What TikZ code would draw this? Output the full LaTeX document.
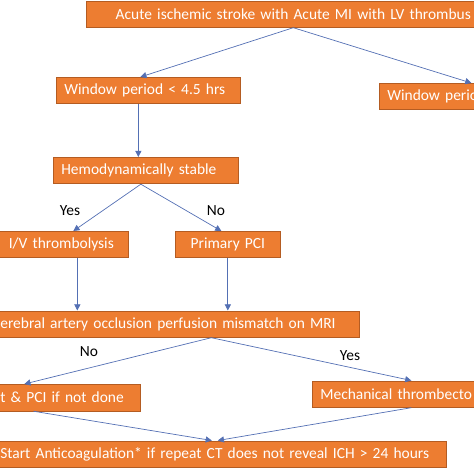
\documentclass[tikz,border=0pt]{standalone}
\usepackage{fontspec}
\setmainfont{Carlito}
\usetikzlibrary{positioning,arrows.meta,calc}
\definecolor{boxfill}{RGB}{237,125,49}
\definecolor{boxline}{RGB}{180,92,34}
\definecolor{arrowblue}{RGB}{84,112,180}

\begin{document}
\begin{tikzpicture}[
  x=0.02cm, y=-0.02cm,
  every node/.style={font=\fontsize{8.8}{11}\selectfont},
  box/.style={rectangle, draw=boxline, fill=boxfill, text=white, anchor=north west, minimum height=0.53cm, inner xsep=0.16cm, inner ysep=0pt, align=left},
  arr/.style={-{Triangle[length=3.5pt,width=3.5pt]}, thin, color=arrowblue},
  lbl/.style={text=black}
]
  \clip (0,0) rectangle (474,474);

  \node[box, text width=7.96cm, align=center] (stroke) at (86,0.5) {Acute ischemic stroke with Acute MI with LV thrombus};
  \node[box, text width=3.36cm] (win1)  at (56,77)  {Window period < 4.5 hrs};
  \node[box, text width=3.36cm] (win2)  at (379,83) {Window perio};
  \node[box, text width=3.38cm] (hemo)  at (53,157) {Hemodynamically stable};
  \node[box, text width=2.36cm, align=center] (ivt)  at (-6,231)  {I/V thrombolysis};
  \node[box, text width=1.78cm, align=center] (ppci) at (175,231) {Primary PCI};
  \node[box, text width=7.02cm] (mri)    at (-8,310.5) {erebral artery occlusion perfusion mismatch on MRI};
  \node[box, text width=2.64cm] (medpci) at (-8,384)   {t \& PCI if not done};
  \node[box, text width=3.64cm] (mech)   at (312,380.5) {Mechanical thrombecto};
  \node[box, text width=8.76cm] (antico) at (-8,440.5) {Start Anticoagulation* if repeat CT does not reveal ICH > 24 hours};

  \node[lbl] (yes1) at (70,211)  {Yes};
  \node[lbl] (no1)  at (216,211) {No};
  \node[lbl] (no2)  at (89,352)  {No};
  \node[lbl] (yes2) at (350,356) {Yes};

  \draw[arr] (stroke.south) -- ([xshift=-0.16cm]win1.north);
  \draw[arr] (stroke.south) -- (win2.north);
  \draw[arr] ([xshift=-0.2cm]win1.south) -- ([xshift=-0.2cm]win1.south |- hemo.north);
  \draw[arr] ([xshift=-0.1cm]hemo.south) -- ([xshift=0.24cm]ivt.north);
  \draw[arr] ([xshift=-0.1cm]hemo.south) -- ([xshift=-0.13cm]ppci.north);
  \draw[arr] ([xshift=0.32cm]ivt.south) -- ([xshift=0.32cm]ivt.south |- mri.north);
  \draw[arr] (ppci.south) -- (ppci.south |- mri.north);
  \draw[arr] ([xshift=0.71cm]mri.south) -- ([xshift=-0.84cm]medpci.north);
  \draw[arr] ([xshift=0.71cm]mri.south) -- (mech.north);
  \draw[arr] ([xshift=-0.66cm]medpci.south) -- ([xshift=-0.15cm]antico.north);
  \draw[arr] (mech.south) -- ([xshift=-0.03cm]antico.north);
\end{tikzpicture}
\end{document}
